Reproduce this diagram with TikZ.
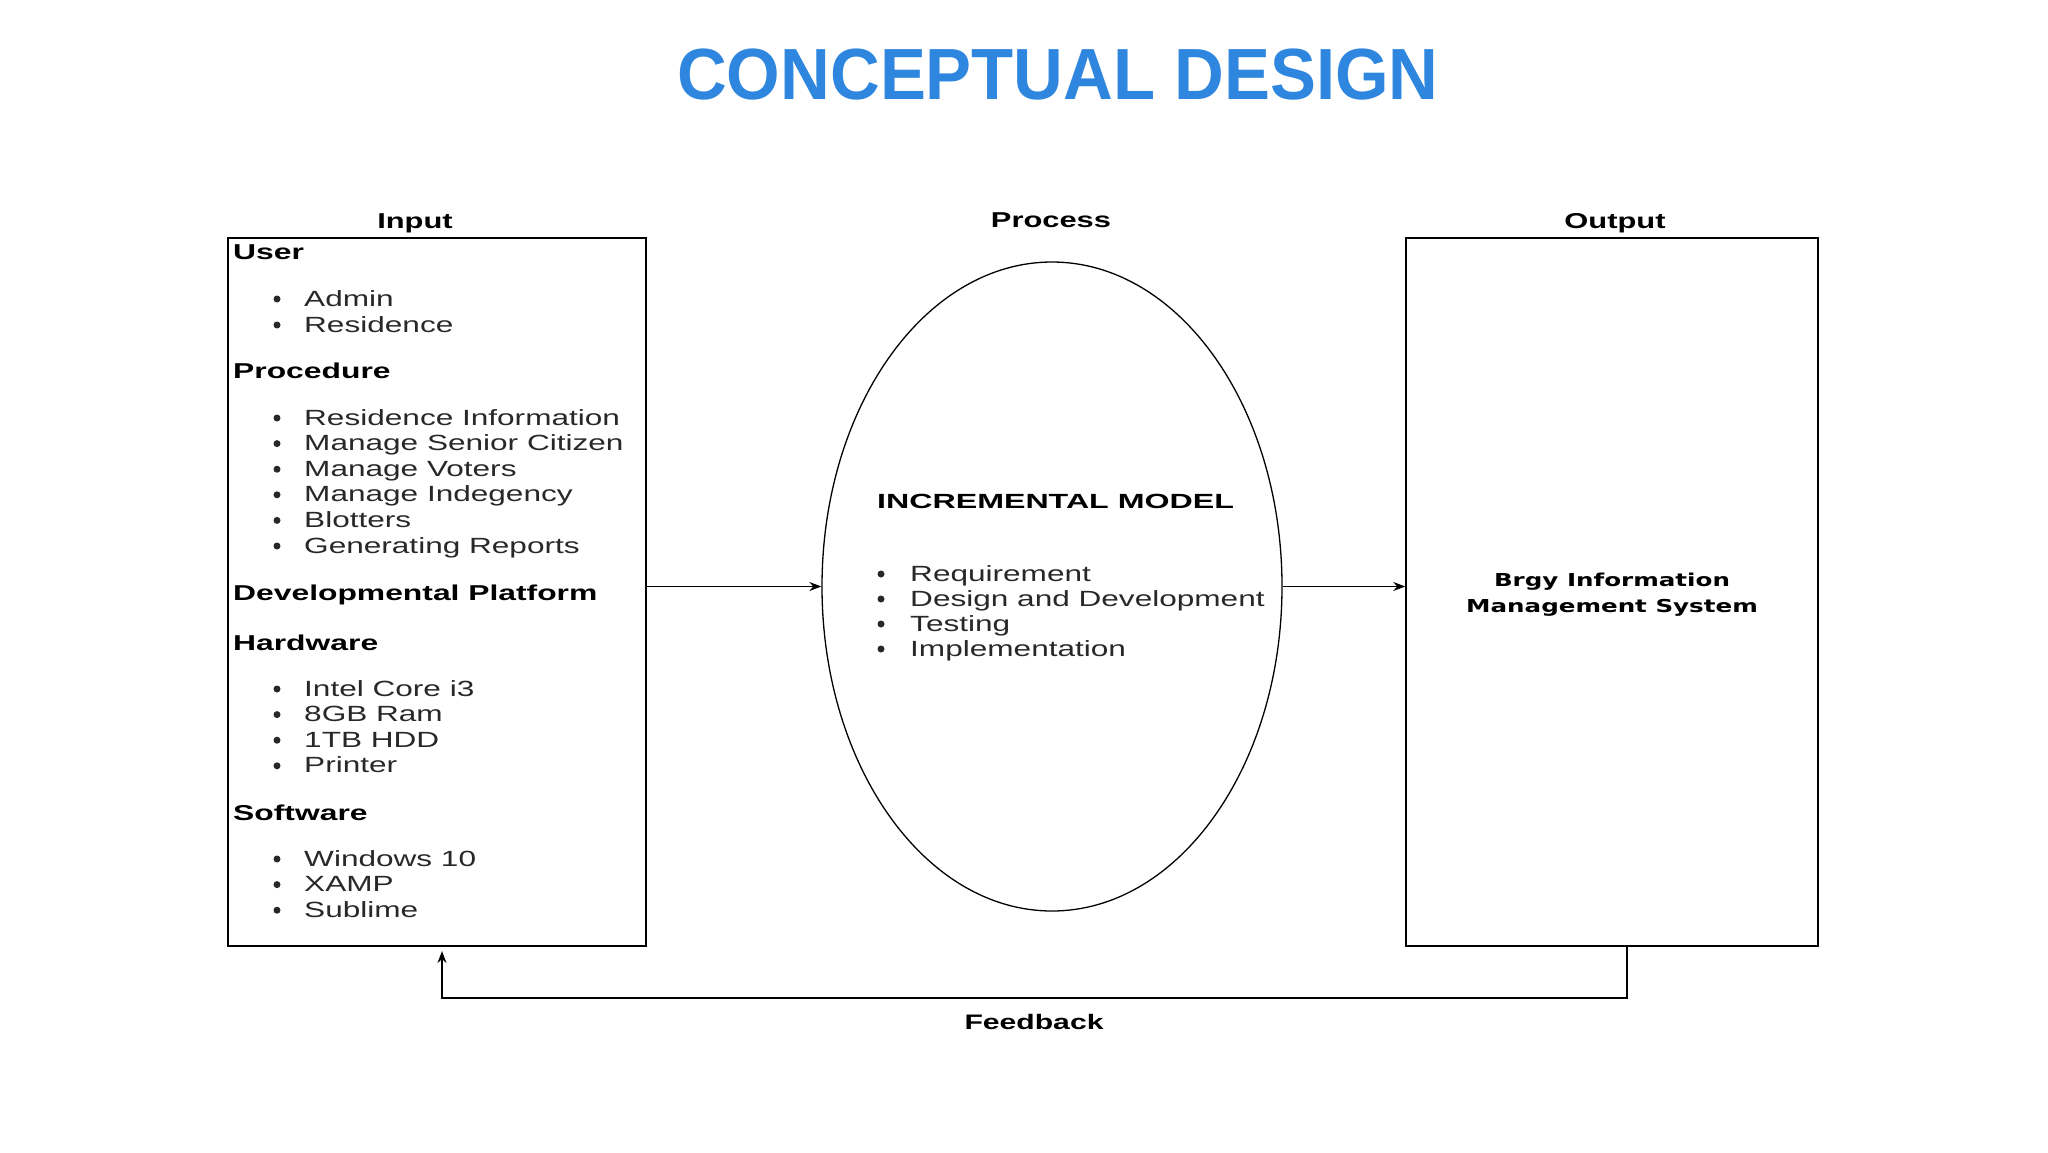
\documentclass[tikz,border=0pt]{standalone}
\usepackage{fontspec}
\setmainfont{Liberation Sans}
\newfontfamily\wf[FakeStretch=1.435]{Liberation Sans}
\newfontfamily\wbf[FakeStretch=1.48]{Liberation Sans}
\newfontfamily\vf[FakeStretch=1.38]{DejaVu Sans}
\newfontfamily\tf[FakeStretch=0.95]{Liberation Sans}
\usetikzlibrary{arrows.meta,shapes.geometric}
\definecolor{titleblue}{RGB}{46,134,222}
\definecolor{itemgray}{RGB}{40,40,40}
\tikzset{
  boxframe/.style={draw=black, line width=1.5pt, inner sep=0pt},
  procell/.style={draw=black, line width=1.3pt, ellipse, inner sep=0pt, minimum width=460pt, minimum height=649pt},
  heading/.style={anchor=base west, inner sep=0pt, font=\wbf\bfseries\fontsize{21.5}{24}\selectfont},
  item/.style={anchor=base west, inner sep=0pt, text=itemgray, font=\wf\fontsize{22}{24}\selectfont},
  label/.style={anchor=base, inner sep=0pt, font=\wf\bfseries\fontsize{21.5}{24}\selectfont},
  bul/.style={circle, fill=itemgray, inner sep=0pt, minimum size=7pt},
  conn/.style={line width=1.5pt, -{Stealth[length=12pt,width=9pt]}},
}
\begin{document}
\begin{tikzpicture}[x=1pt,y=-1pt]
\useasboundingbox (0,0) rectangle (2048,1152);

% title
\node[anchor=base, inner sep=0pt, text=titleblue, font=\tf\bfseries\fontsize{72.5}{80}\selectfont] (title) at (1058,99) {CONCEPTUAL DESIGN};

% column labels
\node[label] (inlabel) at (415,228) {Input};
\node[label] (proclabel) at (1051,227) {Process};
\node[label] (outlabel) at (1615,228) {Output};

% boxes
\node[boxframe, minimum width=418pt, minimum height=708pt] (inbox) at (437,592) {};
\node[boxframe, minimum width=412pt, minimum height=708pt] (outbox) at (1612,592) {};
\node[procell] (proc) at (1052,586.5) {};

% input contents
\node[heading] (hUser) at (233,259) {User};
\node[heading] (hProc) at (233,378) {Procedure};
\node[heading] (hDev) at (233,600) {Developmental Platform};
\node[heading] (hHard) at (233,650) {Hardware};
\node[heading] (hSoft) at (233,820) {Software};

\foreach \t/\yy [count=\i] in {Admin/306, Residence/332,
  Residence Information/425, Manage Senior Citizen/450.6, Manage Voters/476.2,
  Manage Indegency/501.8, Blotters/527.4, Generating Reports/553,
  Intel Core i3/696, 8GB Ram/721.6, 1TB HDD/747.2, Printer/772.8,
  Windows 10/866, XAMP/891.6, Sublime/917.2}{
  \node[bul] (ib\i) at (277,\yy-7) {};
  \node[item] (it\i) at (304,\yy) {\t};
}

% process contents
\node[anchor=base west, inner sep=0pt, xscale=1.06, font=\wbf\bfseries\fontsize{20.5}{24}\selectfont] (inc) at (877,508.5) {INCREMENTAL MODEL};
\foreach \t/\yy [count=\i] in {Requirement/581, Design and Development/606, Testing/631, Implementation/656}{
  \node[bul] (pb\i) at (881,\yy-7) {};
  \node[item] (pt\i) at (910,\yy) {\t};
}

% output contents
\node[anchor=base, inner sep=0pt, font=\vf\bfseries\fontsize{17.8}{26}\selectfont] (out1) at (1612,586) {Brgy Information};
\node[anchor=base, inner sep=0pt, font=\vf\bfseries\fontsize{17.8}{26}\selectfont] (out2) at (1612,612) {Management System};

% connectors
\draw[conn] (proc.west -| inbox.east) -- (proc.west);
\draw[conn] (proc.east) -- (proc.east -| outbox.west);

\coordinate (fbR) at (1627,946);
\coordinate (fbL) at (442,951);
\coordinate (fbY) at (0,998);
\draw[conn] (fbR) -- (fbR |- fbY) -| (fbL);
\node[label, font=\wf\bfseries\fontsize{21}{24}\selectfont] (fb) at (1034,1029) {Feedback};
\end{tikzpicture}
\end{document}
